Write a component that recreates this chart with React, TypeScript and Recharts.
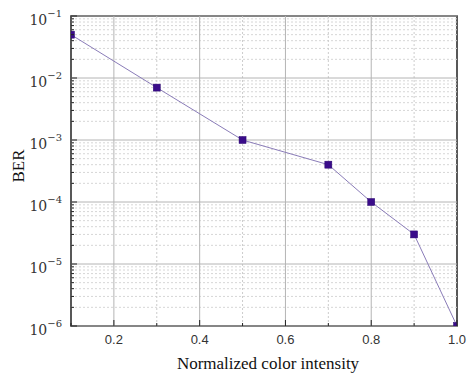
import React from 'react';
import { LineChart, Line, XAxis, YAxis, ReferenceLine, ReferenceArea } from 'recharts';

// BER measured at each normalized colour intensity
const intensity = [0.1, 0.3, 0.5, 0.7, 0.8, 0.9, 1.0];
const ber = [0.05, 0.007, 0.001, 0.0004, 0.0001, 0.00003, 0.000001];

// Axis ticks
const xTicks = [0.1, 0.2, 0.3, 0.4, 0.5, 0.6, 0.7, 0.8, 0.9, 1.0];
const xLabeled = [0.2, 0.4, 0.6, 0.8, 1.0];
const xMinorGrid = [0.3, 0.5, 0.7, 0.9];
const xMajorGrid = [0.2, 0.4, 0.6, 0.8];
const decadeExps = [-6, -5, -4, -3, -2, -1];
const decades = decadeExps.map((e) => Math.pow(10, e));
const minorMultipliers = [2, 3, 4, 5, 6, 7, 8, 9];
const yMinor = decadeExps.slice(0, -1).flatMap((e) => minorMultipliers.map((m) => m * Math.pow(10, e)));
const yTicks = [...decades, ...yMinor].sort((a, b) => a - b);

const xTitle = 'Normalized color intensity';
const yTitle = 'BER';

const data = intensity.map((x, i) => ({ x, ber: ber[i] }));

const AXIS = '#222';
const TEXT = '#333';

const isDecade = (v: number) => decades.some((d) => Math.abs(d - v) / d < 1e-6);

const YTick = (props: any) => {
  const { x, y, payload } = props;
  const v = payload.value;
  const major = isDecade(v);
  const exp = Math.round(Math.log10(v));
  return (
    <g>
      <line x1={x} x2={x + (major ? 6 : 3)} y1={y} y2={y} stroke={AXIS} strokeWidth={1} />
      {major && (
        <text x={x - 9} y={y + 9} textAnchor="end" fill={TEXT} fontFamily="DejaVu Serif" fontSize={14}>
          <tspan>10</tspan>
          <tspan dy={-8} fontSize={10}>{'\u2212' + Math.abs(exp)}</tspan>
        </text>
      )}
    </g>
  );
};

const XTick = (props: any) => {
  const { x, y, payload } = props;
  const v = payload.value;
  const labeled = xLabeled.some((t) => Math.abs(t - v) < 1e-6);
  return (
    <g>
      <line x1={x} x2={x} y1={y} y2={y - (labeled ? 6 : 3)} stroke={AXIS} strokeWidth={1} />
      {labeled && (
        <text x={x} y={y + 18} textAnchor="middle" fill={TEXT} fontFamily="Liberation Sans" fontSize={13}>
          {v.toFixed(1)}
        </text>
      )}
    </g>
  );
};

const XTitle = () => (
  <text x={268} y={369} textAnchor="middle" fill="#111" fontFamily="Liberation Serif" fontSize={17}>
    {xTitle}
  </text>
);

const YTitle = () => (
  <text transform="translate(24,166) rotate(-90)" textAnchor="middle" fill="#111" fontFamily="Liberation Serif" fontSize={17}>
    {yTitle}
  </text>
);

const SquareDot = (props: any) => {
  const { cx, cy, index } = props;
  if (cx == null || cy == null) return null;
  return <rect key={index} x={cx - 3.5} y={cy - 3.5} width={7} height={7} fill="#3a0c8a" stroke="#2a0670" strokeWidth={0.5} />;
};

export default function App() {
  return (
    <div style={{ position: 'absolute', left: 0, top: 0, background: '#fff' }}>
      <LineChart width={474} height={379} data={data} margin={{ top: 16, right: 17, bottom: 0, left: 0 }}>
        <XAxis
          dataKey="x"
          type="number"
          domain={[0.1, 1.0]}
          ticks={xTicks}
          interval={0}
          allowDataOverflow
          height={53}
          tickSize={0}
          tickMargin={0}
          tickLine={false}
          axisLine={false}
          tick={<XTick />}
          label={{ content: () => <XTitle /> }}
        />
        <YAxis
          dataKey="ber"
          scale="log"
          domain={[1e-6, 1e-1]}
          ticks={yTicks}
          interval={0}
          allowDataOverflow
          width={71}
          tickSize={0}
          tickMargin={0}
          tickLine={false}
          axisLine={false}
          tick={<YTick />}
          label={{ content: () => <YTitle /> }}
        />
        {yMinor.map((v) => (
          <ReferenceLine key={'ym' + v} y={v} stroke="#d6d6d6" strokeWidth={1} strokeDasharray="2 2" />
        ))}
        {xMinorGrid.map((v) => (
          <ReferenceLine key={'xm' + v} x={v} stroke="#cccccc" strokeWidth={1} strokeDasharray="2 2" />
        ))}
        {decades.map((v) => (
          <ReferenceLine key={'yM' + v} y={v} stroke="#b4b4b4" strokeWidth={1} />
        ))}
        {xMajorGrid.map((v) => (
          <ReferenceLine key={'xM' + v} x={v} stroke="#b4b4b4" strokeWidth={1} />
        ))}
        <ReferenceArea x1={0.1} x2={1.0} y1={1e-6} y2={1e-1} fill="none" stroke={AXIS} strokeWidth={1.5} ifOverflow="visible" />
        <Line
          type="linear"
          dataKey="ber"
          stroke="#8a7cb8"
          strokeWidth={1}
          dot={<SquareDot />}
          activeDot={false}
          isAnimationActive={false}
        />
      </LineChart>
    </div>
  );
}
